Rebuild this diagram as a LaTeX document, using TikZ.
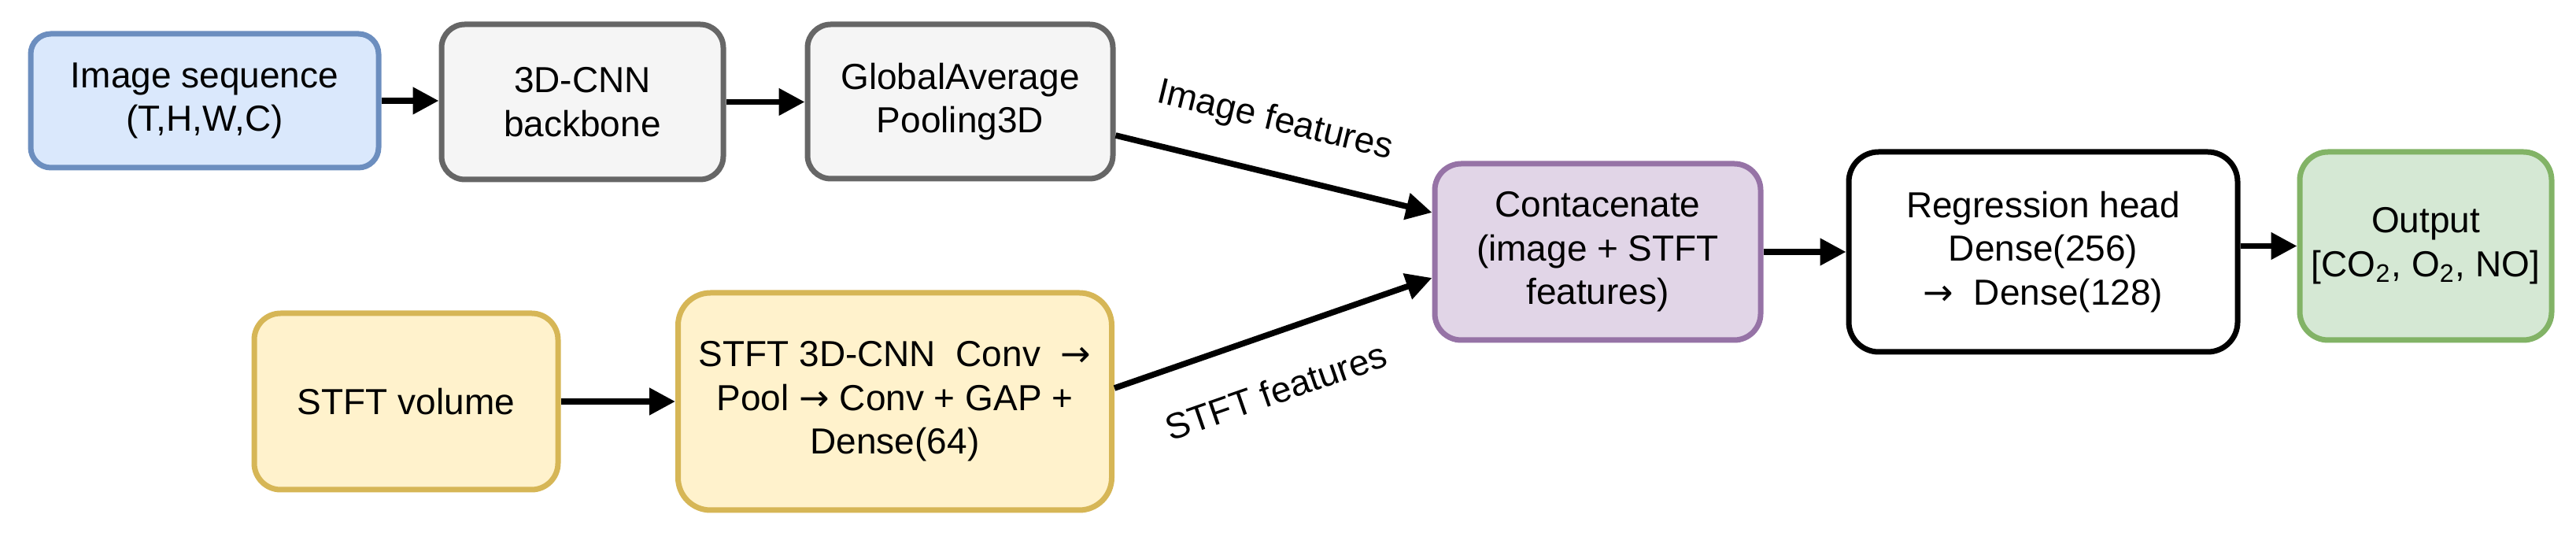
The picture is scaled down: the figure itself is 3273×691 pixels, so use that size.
\documentclass[tikz,border=0pt]{standalone}
\usepackage{fontspec}
\setmainfont{Liberation Sans}
\newfontfamily\arrfont{DejaVu Sans}
\newcommand{\myarr}{{\arrfont →}}
\usetikzlibrary{arrows.meta,calc}
\definecolor{bluef}{HTML}{DAE8FC}\definecolor{blued}{HTML}{6C8EBF}
\definecolor{grayf}{HTML}{F5F5F5}\definecolor{grayd}{HTML}{666666}
\definecolor{purpf}{HTML}{E1D5E7}\definecolor{purpd}{HTML}{9673A6}
\definecolor{greenf}{HTML}{D5E8D4}\definecolor{greend}{HTML}{82B366}
\definecolor{yellf}{HTML}{FFF2CC}\definecolor{yelld}{HTML}{D6B656}
\begin{document}
\begin{tikzpicture}[x=0.25pt,y=-0.25pt,
  box/.style={line width=1.75pt, align=center, inner sep=0pt,
    font=\fontsize{11.5pt}{13.9pt}\selectfont},
  arr/.style={line width=1.9pt, -{Triangle[length=8.25pt,width=8.25pt]}},
  lbl/.style={font=\fontsize{11.5pt}{13.9pt}\selectfont, inner sep=0pt, sloped}]
\useasboundingbox (0,0) rectangle (3273,691);
\node[box, draw=blued, fill=bluef, rounded corners=6.4pt, minimum width=110.5pt, minimum height=42.5pt] (img) at (260,128) {Image sequence\\(T,H,W,C)};
\node[box, draw=grayd, fill=grayf, rounded corners=7.4pt, minimum width=89.5pt, minimum height=49.25pt] (cnn) at (740,129.5) {3D-CNN\\backbone};
\node[box, draw=grayd, fill=grayf, rounded corners=7.4pt, minimum width=97pt, minimum height=49pt] (gap) at (1220,129) {GlobalAverage\\Pooling3D};
\node[box, draw=purpd, fill=purpf, rounded corners=8.4pt, minimum width=103.5pt, minimum height=56pt] (cat) at (2030,320) {Contacenate\\(image + STFT\\features)};
\node[box, draw=black, fill=white, rounded corners=9.5pt, minimum width=123.5pt, minimum height=63.5pt] (reg) at (2596,320) {Regression head\\Dense(256)\\\myarr\ \ Dense(128)};
\node[box, draw=greend, fill=greenf, rounded corners=9pt, minimum width=80pt, minimum height=59.75pt] (out) at (3082,312.5) {Output\\{}[CO\textsubscript{2}, O\textsubscript{2}, NO]};
\node[box, draw=yelld, fill=yellf, rounded corners=8.4pt, minimum width=96.5pt, minimum height=56pt] (vol) at (516,510) {STFT volume};
\node[box, draw=yelld, fill=yellf, rounded corners=10.3pt, minimum width=137.75pt, minimum height=69pt] (scnn) at (1137,510) {STFT 3D-CNN\ \ Conv\ \ \myarr\\Pool \myarr\ Conv + GAP +\\Dense(64)};
\draw[arr] (img.east) -- (img.east -| cnn.west);
\draw[arr] (cnn.east) -- (cnn.east -| gap.west);
\draw[arr] ([yshift=-10.75pt]gap.east) -- node[lbl, pos=0.465, above=10pt] {Image features} ([yshift=12.5pt]cat.west);
\draw[arr] (vol) -- (scnn);
\draw[arr] ([yshift=4.25pt]scnn.east) -- node[lbl, pos=0.45, below=12.5pt] {STFT features} ([yshift=-8.25pt]cat.west);
\draw[arr] (cat) -- (reg);
\draw[arr] (reg.east |- out.west) -- (out.west);
\end{tikzpicture}
\end{document}
